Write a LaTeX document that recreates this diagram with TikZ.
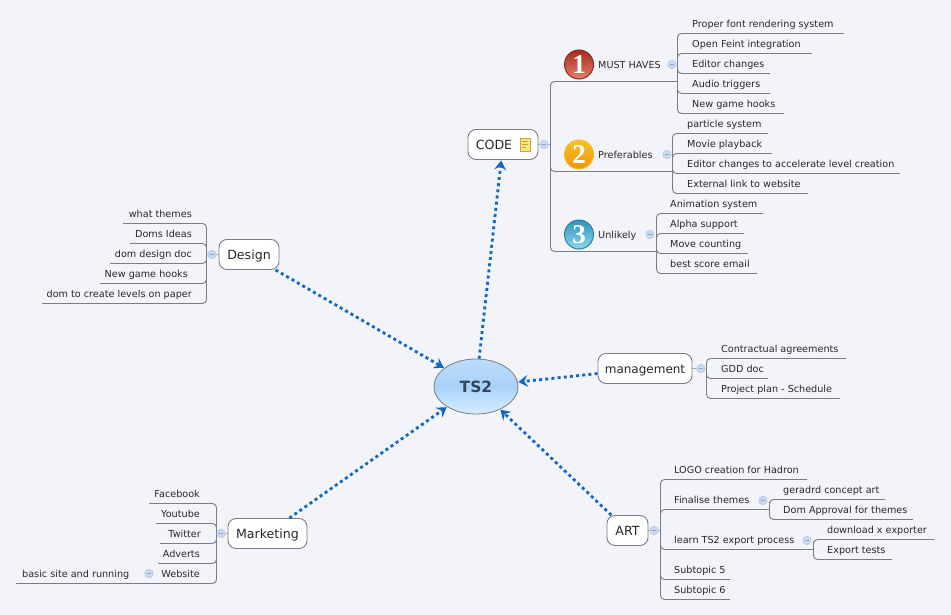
\documentclass[tikz,border=0pt]{standalone}
\usepackage{fontspec}
\setmainfont{DejaVu Sans}
\newfontfamily\digitfont{Liberation Serif}
\usetikzlibrary{arrows.meta,shapes.geometric}
\definecolor{bgc}{HTML}{F2F4F9}
\definecolor{linec}{HTML}{7A7D83}
\definecolor{textc}{HTML}{26282C}
\definecolor{linkc}{HTML}{0F68C4}
\definecolor{iconf}{HTML}{C9D9F1}
\definecolor{icond}{HTML}{B4C8E6}
\definecolor{iconm}{HTML}{8CA5CC}
\definecolor{tstop}{HTML}{BCDCFA}
\definecolor{tsmid}{HTML}{A9D3F9}
\definecolor{tsbot}{HTML}{D8EDFD}
\definecolor{tstext}{HTML}{34475C}
\definecolor{notef}{HTML}{FBE38A}
\definecolor{noted}{HTML}{CDA62A}
\definecolor{ra}{HTML}{A62A20}\definecolor{rb}{HTML}{E2806A}\definecolor{rc}{HTML}{8E2A20}
\definecolor{oa}{HTML}{F8C428}\definecolor{ob}{HTML}{F0920C}\definecolor{oc}{HTML}{F4BC28}
\definecolor{ba}{HTML}{2E94C0}\definecolor{bb}{HTML}{8CD8E8}\definecolor{bc}{HTML}{2C7EA4}
\tikzset{
  leaf/.style={inner sep=0pt,text=textc,font=\fontsize{9.65}{11}\selectfont,text height=7.5pt,text depth=2pt},
  branch/.style={draw=linec,line width=0.9pt,rounded corners=4pt},
  stub/.style={draw=linec!70,line width=0.8pt},
  topic/.style={draw=linec,line width=0.9pt,fill=white,rounded corners=8pt,text=textc,inner sep=0pt,minimum height=30pt,text height=9.5pt,text depth=0pt,font=\fontsize{12.6}{14}\selectfont},
  collapse/.style={circle,draw=icond,fill=iconf,line width=0.6pt,minimum size=8.5pt,inner sep=0pt,text height=0pt,text depth=0pt},
  link/.style={draw=linkc,line width=2.8pt,dash pattern=on 3pt off 3.2pt,-{Stealth[length=9.5pt,width=12pt,inset=3.5pt]},shorten >=0.5pt},
  badge/.style={circle,draw=#1,line width=1pt,minimum size=29pt,inner sep=0pt,text=white,font=\digitfont\bfseries\fontsize{27}{27}\selectfont},
}
\newcommand\lf[6]{%
  \node[leaf,anchor=#2] (#1) at (#3,{#4-8.5}) {#6};
  \coordinate (#1-e) at (#5,#4);
}
\newcommand\cic[3]{\node[collapse] (#1) at (#2,#3) {\textcolor{iconm}{\rule{4pt}{0.7pt}}};}
\begin{document}
\begin{tikzpicture}[x=1pt,y=-1pt]
\useasboundingbox (0,0) rectangle (951,615);
\fill[bgc] (0,0) rectangle (951,615);
\begin{scope}[shift={(0,0.5)}]
% main nodes
\node[ellipse,draw=linec,line width=0.8pt,minimum width=84pt,minimum height=55pt,inner sep=0pt,
  top color=tstop,bottom color=tsbot,middle color=tsmid,text=tstext,font=\bfseries\fontsize{15.5}{17}\selectfont] (ts2) at (476,386) {TS2};
\node[topic,minimum width=70pt] (code) at (503,144) {\hspace*{-18pt}CODE};
\node[topic,minimum width=60pt] (design) at (249,254) {Design};
\node[topic,minimum width=79pt] (marketing) at (267.5,533) {Marketing};
\node[topic,minimum width=94pt,font=\fontsize{12}{14}\selectfont] (management) at (645,368) {management};
\node[topic,minimum width=41pt] (art) at (627.5,530) {ART};

% dotted links
\draw[link] (ts2) -- (code);
\draw[link] (design) -- (ts2);
\draw[link] (marketing) -- (ts2);
\draw[link] (art) -- (ts2);
\draw[link] (management) -- (ts2);

% note icon
\node[draw=noted,fill=notef,line width=0.7pt,minimum width=10pt,minimum height=13pt,inner sep=0pt] (note) at (525,144) {};
\draw[noted,line width=0.6pt] (522,141) -- (528,141) (522,144) -- (528,144) (522,147) -- (526,147);

% CODE branch
\coordinate (bc) at (550.5,144);
\coordinate (bm) at (677.5,73);
\coordinate (bp) at (672.5,163);
\coordinate (bu) at (656.5,243);
\coordinate (must-e) at (677.5,81);
\coordinate (pref-e) at (672.5,171);
\coordinate (unl-e) at (656.5,251);
\node[badge=rc,top color=ra,bottom color=rb] (b1) at (579,64) {1};
\node[badge=oc,top color=oa,bottom color=ob] (b2) at (579,154) {2};
\node[badge=bc,top color=ba,bottom color=bb] (b3) at (579,234) {3};
\node[leaf,anchor=west] (must) at (598,65) {MUST HAVES};
\node[leaf,anchor=west] (pref) at (598,155) {Preferables};
\node[leaf,anchor=west] (unl) at (598,235) {Unlikely};
\draw[stub] (code) -- (bc);
\draw[branch] (must-e) -| (bc) |- (unl-e);
\draw[branch] (pref-e) -| (bc);
\cic{ccode}{544}{144}
\cic{cmust}{672}{64}
\cic{cpref}{667}{154}
\cic{cunl}{650}{234}

\lf{m1}{west}{692}{33}{844}{Proper font rendering system}
\lf{m2}{west}{692}{53}{812}{Open Feint integration}
\lf{m3}{west}{692}{73}{770}{Editor changes}
\lf{m4}{west}{692}{93}{770}{Audio triggers}
\lf{m5}{west}{692}{113}{784}{New game hooks}
\draw[branch] (m1-e) -| (bm) |- (m5-e);
\draw[branch] (m2-e) -| (bm);
\draw[branch] (m3-e) -| (bm);
\draw[branch] (m4-e) -| (bm);

\lf{p1}{west}{687}{133}{768}{particle system}
\lf{p2}{west}{687}{153}{772}{Movie playback}
\lf{p3}{west}{687}{173}{900}{Editor changes to accelerate level creation}
\lf{p4}{west}{687}{193}{808}{External link to website}
\draw[branch] (p1-e) -| (bp) |- (p4-e);
\draw[branch] (p2-e) -| (bp);
\draw[branch] (p3-e) -| (bp);

\lf{u1}{west}{670}{213}{763}{Animation system}
\lf{u2}{west}{670}{233}{744}{Alpha support}
\lf{u3}{west}{670}{253}{748}{Move counting}
\lf{u4}{west}{670}{273}{757}{best score email}
\draw[branch] (u1-e) -| (bu) |- (u4-e);
\draw[branch] (u2-e) -| (bu);
\draw[branch] (u3-e) -| (bu);

% management
\coordinate (bg) at (706.5,368);
\draw[stub] (management) -- (bg);
\lf{g1}{west}{721}{358}{846}{Contractual agreements}
\lf{g2}{west}{721}{378}{768}{GDD doc}
\lf{g3}{west}{721}{398}{840}{Project plan - Schedule}
\draw[branch] (g1-e) -| (bg) |- (g3-e);
\draw[branch] (g2-e) -| (bg);
\cic{cman}{701}{368}

% ART
\coordinate (ba) at (660.5,530);
\draw[stub] (art) -- (ba);
\lf{a1}{west}{674}{479}{807}{LOGO creation for Hadron}
\lf{a2}{west}{674}{509}{769}{Finalise themes}
\lf{a3}{west}{674}{549}{813}{learn TS2 export process}
\lf{a4}{west}{674}{579}{730}{Subtopic 5}
\lf{a5}{west}{674}{599}{730}{Subtopic 6}
\draw[branch] (a1-e) -| (ba) |- (a5-e);
\draw[branch] (a2-e) -| (ba);
\draw[branch] (a3-e) -| (ba);
\draw[branch] (a4-e) -| (ba);
\cic{cart}{654}{530}

\coordinate (bf) at (769.5,505);
\lf{f1}{west}{783}{499}{885}{geradrd concept art}
\lf{f2}{west}{783}{519}{913}{Dom Approval for themes}
\draw[branch] (f1-e) -| (bf) |- (f2-e);
\cic{cfin}{763}{500}

\coordinate (bl) at (813.5,545);
\lf{l1}{west}{827}{539}{934}{download x exporter}
\lf{l2}{west}{827}{559}{892}{Export tests}
\draw[branch] (l1-e) -| (bl) |- (l2-e);
\cic{clearn}{807}{540}

% Design
\coordinate (bd) at (206.5,254);
\draw[stub] (design) -- (bd);
\lf{d1}{east}{192}{223}{123}{what themes}
\lf{d2}{east}{192}{243}{130}{Doms Ideas}
\lf{d3}{east}{192}{263}{110}{dom design doc}
\lf{d4}{east}{188}{283}{100}{New game hooks}
\lf{d5}{east}{192}{303}{42}{dom to create levels on paper}
\draw[branch] (d1-e) -| (bd) |- (d5-e);
\draw[branch] (d2-e) -| (bd);
\draw[branch] (d3-e) -| (bd);
\draw[branch] (d4-e) -| (bd);
\cic{cdes}{212}{254}

% Marketing
\coordinate (bk) at (216.5,533);
\draw[stub] (marketing) -- (bk);
\lf{k1}{east}{200}{503}{149}{Facebook}
\lf{k2}{east}{200}{523}{156}{Youtube}
\lf{k3}{east}{201}{543}{160}{Twitter}
\lf{k4}{east}{200}{563}{158}{Adverts}
\lf{k5}{east}{200}{583}{16}{Website}
\node[leaf,anchor=west] (basic) at (22,574.5) {basic site and running};
\draw[branch] (k1-e) -| (bk) |- (k5-e);
\draw[branch] (k2-e) -| (bk);
\draw[branch] (k3-e) -| (bk);
\draw[branch] (k4-e) -| (bk);
\cic{cmar}{221}{533}
\cic{cweb}{149}{573}
\end{scope}
\end{tikzpicture}
\end{document}
